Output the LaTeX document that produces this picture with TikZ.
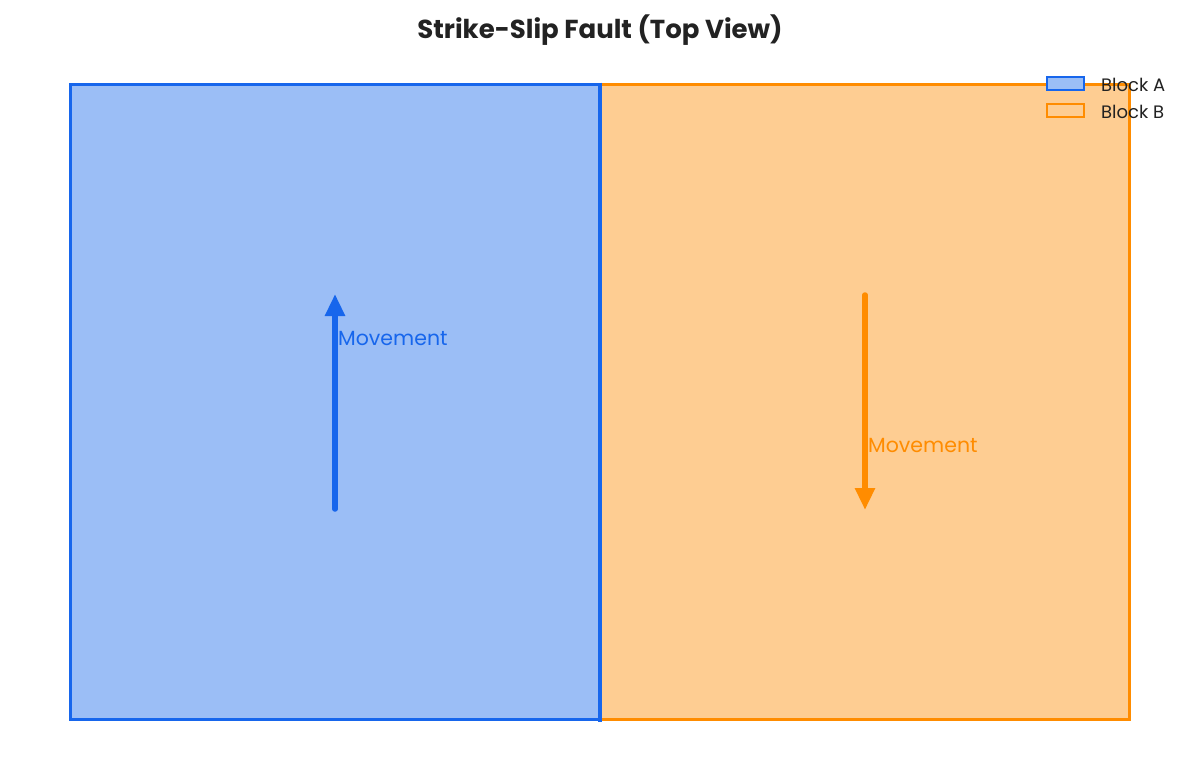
\documentclass[tikz,border=0pt]{standalone}
\usepackage{fontspec}
\setmainfont{Poppins}
\usetikzlibrary{arrows.meta}
\definecolor{blueS}{HTML}{1766EC}
\definecolor{blueF}{HTML}{9BBEF6}
\definecolor{orS}{HTML}{FF8C00}
\definecolor{orF}{HTML}{FECD92}
\definecolor{txt}{HTML}{222222}
\tikzset{
  blockA/.style={draw=blueS,fill=blueF,line width=2.4pt},
  blockB/.style={draw=orS,fill=orF,line width=2.4pt},
  fault/.style={draw=blueS,line width=4.5pt},
  move/.style={line width=5.5pt,line cap=round,-{Triangle[length=22pt,width=19pt]}},
  mvlabel/.style={font=\fontsize{20.5}{24}\selectfont,anchor=base west,inner sep=0pt},
  legtext/.style={font=\fontsize{18}{21}\selectfont,text=txt,anchor=west,inner sep=0pt},
}
\begin{document}
\begin{tikzpicture}[x=1pt,y=-1pt]
\useasboundingbox (0,0) rectangle (1200,763);
\fill[white] (0,0) rectangle (1200,763);
\node[font=\bfseries\fontsize{26}{31}\selectfont,text=txt] (title) at (600,30) {Strike-Slip Fault (Top View)};
\draw[blockA] (70.5,84.5) rectangle (600,719.5);
\draw[blockB] (600,84.5) rectangle (1129.5,719.5);
\coordinate (ftop) at (600,82.5);
\coordinate (fbot) at (600,721.5);
\draw[fault] (ftop) -- (fbot);
\coordinate (a1) at (335,509);
\coordinate (a2) at (335,294);
\draw[move,blueS] (a1) -- (a2);
\coordinate (b1) at (865,295);
\coordinate (b2) at (865,510);
\draw[move,orS] (b1) -- (b2);
\node[mvlabel,text=blueS] (la) at (338,345) {Movement};
\node[mvlabel,text=orS] (lb) at (868,452) {Movement};
\draw[draw=blueS,fill=blueF,line width=2.2pt] (1047,77) rectangle (1084,90);
\draw[draw=orS,fill=orF,line width=2.2pt] (1047,104) rectangle (1084,117);
\node[legtext] (lA) at (1101,85) {Block A};
\node[legtext] (lB) at (1101,112) {Block B};
\end{tikzpicture}
\end{document}
